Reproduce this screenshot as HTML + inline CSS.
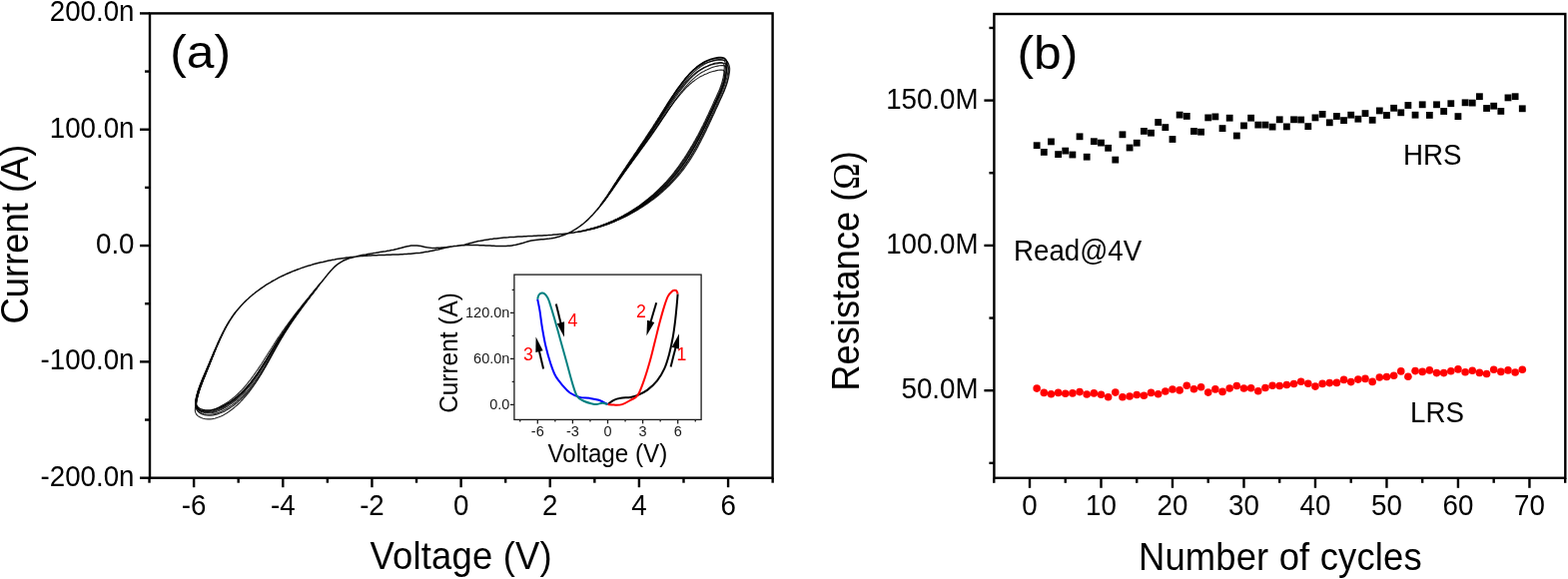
<!DOCTYPE html>
<html><head><meta charset="utf-8"><title>Figure</title>
<style>
html,body{margin:0;padding:0;background:#fff;}
body{width:1570px;height:580px;overflow:hidden;}
svg{display:block;}
text{font-family:"Liberation Sans", Arial, sans-serif;fill:#000;}
</style></head>
<body>
<svg width="1570" height="580" viewBox="0 0 1570 580">
<rect width="1570" height="580" fill="#fff"/>
<rect x="150.0" y="13.4" width="623.60" height="465.30" fill="none" stroke="#000" stroke-width="2.4"/>
<line x1="149.54" y1="478.70" x2="149.54" y2="483.70" stroke="#000" stroke-width="2.4"/>
<line x1="194.12" y1="478.70" x2="194.12" y2="488.20" stroke="#000" stroke-width="2.4"/>
<line x1="238.70" y1="478.70" x2="238.70" y2="483.70" stroke="#000" stroke-width="2.4"/>
<line x1="283.28" y1="478.70" x2="283.28" y2="488.20" stroke="#000" stroke-width="2.4"/>
<line x1="327.86" y1="478.70" x2="327.86" y2="483.70" stroke="#000" stroke-width="2.4"/>
<line x1="372.44" y1="478.70" x2="372.44" y2="488.20" stroke="#000" stroke-width="2.4"/>
<line x1="417.02" y1="478.70" x2="417.02" y2="483.70" stroke="#000" stroke-width="2.4"/>
<line x1="461.60" y1="478.70" x2="461.60" y2="488.20" stroke="#000" stroke-width="2.4"/>
<line x1="506.18" y1="478.70" x2="506.18" y2="483.70" stroke="#000" stroke-width="2.4"/>
<line x1="550.76" y1="478.70" x2="550.76" y2="488.20" stroke="#000" stroke-width="2.4"/>
<line x1="595.34" y1="478.70" x2="595.34" y2="483.70" stroke="#000" stroke-width="2.4"/>
<line x1="639.92" y1="478.70" x2="639.92" y2="488.20" stroke="#000" stroke-width="2.4"/>
<line x1="684.50" y1="478.70" x2="684.50" y2="483.70" stroke="#000" stroke-width="2.4"/>
<line x1="729.08" y1="478.70" x2="729.08" y2="488.20" stroke="#000" stroke-width="2.4"/>
<line x1="773.66" y1="478.70" x2="773.66" y2="483.70" stroke="#000" stroke-width="2.4"/>
<text transform="translate(194.12,516.20) scale(1,1.041)" font-size="27.7" text-anchor="middle" >-6</text>
<text transform="translate(283.28,516.20) scale(1,1.041)" font-size="27.7" text-anchor="middle" >-4</text>
<text transform="translate(372.44,516.20) scale(1,1.041)" font-size="27.7" text-anchor="middle" >-2</text>
<text transform="translate(461.60,516.20) scale(1,1.041)" font-size="27.7" text-anchor="middle" >0</text>
<text transform="translate(550.76,516.20) scale(1,1.041)" font-size="27.7" text-anchor="middle" >2</text>
<text transform="translate(639.92,516.20) scale(1,1.041)" font-size="27.7" text-anchor="middle" >4</text>
<text transform="translate(729.08,516.20) scale(1,1.041)" font-size="27.7" text-anchor="middle" >6</text>
<line x1="140.00" y1="478.70" x2="150.00" y2="478.70" stroke="#000" stroke-width="2.4"/>
<line x1="145.00" y1="420.54" x2="150.00" y2="420.54" stroke="#000" stroke-width="2.4"/>
<line x1="140.00" y1="362.38" x2="150.00" y2="362.38" stroke="#000" stroke-width="2.4"/>
<line x1="145.00" y1="304.21" x2="150.00" y2="304.21" stroke="#000" stroke-width="2.4"/>
<line x1="140.00" y1="246.05" x2="150.00" y2="246.05" stroke="#000" stroke-width="2.4"/>
<line x1="145.00" y1="187.89" x2="150.00" y2="187.89" stroke="#000" stroke-width="2.4"/>
<line x1="140.00" y1="129.73" x2="150.00" y2="129.73" stroke="#000" stroke-width="2.4"/>
<line x1="145.00" y1="71.56" x2="150.00" y2="71.56" stroke="#000" stroke-width="2.4"/>
<line x1="140.00" y1="13.40" x2="150.00" y2="13.40" stroke="#000" stroke-width="2.4"/>
<text transform="translate(134.50,21.40) scale(1,1.041)" font-size="27.7" text-anchor="end" >200.0n</text>
<text transform="translate(134.50,137.73) scale(1,1.041)" font-size="27.7" text-anchor="end" >100.0n</text>
<text transform="translate(134.50,254.05) scale(1,1.041)" font-size="27.7" text-anchor="end" >0.0</text>
<text transform="translate(134.50,370.38) scale(1,1.041)" font-size="27.7" text-anchor="end" >-100.0n</text>
<text transform="translate(134.50,486.70) scale(1,1.041)" font-size="27.7" text-anchor="end" >-200.0n</text>
<text transform="translate(170.20,67.80) scale(1.07,1.0)" font-size="46.5" text-anchor="start" >(a)</text>
<text transform="translate(461.70,569.70) scale(1,1.041)" font-size="36.4" text-anchor="middle" letter-spacing="0.22">Voltage (V)</text>
<text transform="translate(28.30,234.50) rotate(-90) scale(1,1.041)" font-size="36.4" text-anchor="middle" >Current (A)</text>
<rect x="995.4" y="14.0" width="571.90" height="464.80" fill="none" stroke="#000" stroke-width="2.4"/>
<line x1="995.25" y1="478.80" x2="995.25" y2="483.80" stroke="#000" stroke-width="2.4"/>
<line x1="1031.00" y1="478.80" x2="1031.00" y2="488.80" stroke="#000" stroke-width="2.4"/>
<line x1="1066.74" y1="478.80" x2="1066.74" y2="483.80" stroke="#000" stroke-width="2.4"/>
<line x1="1102.49" y1="478.80" x2="1102.49" y2="488.80" stroke="#000" stroke-width="2.4"/>
<line x1="1138.23" y1="478.80" x2="1138.23" y2="483.80" stroke="#000" stroke-width="2.4"/>
<line x1="1173.98" y1="478.80" x2="1173.98" y2="488.80" stroke="#000" stroke-width="2.4"/>
<line x1="1209.72" y1="478.80" x2="1209.72" y2="483.80" stroke="#000" stroke-width="2.4"/>
<line x1="1245.47" y1="478.80" x2="1245.47" y2="488.80" stroke="#000" stroke-width="2.4"/>
<line x1="1281.21" y1="478.80" x2="1281.21" y2="483.80" stroke="#000" stroke-width="2.4"/>
<line x1="1316.96" y1="478.80" x2="1316.96" y2="488.80" stroke="#000" stroke-width="2.4"/>
<line x1="1352.70" y1="478.80" x2="1352.70" y2="483.80" stroke="#000" stroke-width="2.4"/>
<line x1="1388.45" y1="478.80" x2="1388.45" y2="488.80" stroke="#000" stroke-width="2.4"/>
<line x1="1424.19" y1="478.80" x2="1424.19" y2="483.80" stroke="#000" stroke-width="2.4"/>
<line x1="1459.94" y1="478.80" x2="1459.94" y2="488.80" stroke="#000" stroke-width="2.4"/>
<line x1="1495.68" y1="478.80" x2="1495.68" y2="483.80" stroke="#000" stroke-width="2.4"/>
<line x1="1531.43" y1="478.80" x2="1531.43" y2="488.80" stroke="#000" stroke-width="2.4"/>
<line x1="1567.17" y1="478.80" x2="1567.17" y2="483.80" stroke="#000" stroke-width="2.4"/>
<text transform="translate(1031.00,516.40) scale(1,1.041)" font-size="27.7" text-anchor="middle" >0</text>
<text transform="translate(1102.49,516.40) scale(1,1.041)" font-size="27.7" text-anchor="middle" >10</text>
<text transform="translate(1173.98,516.40) scale(1,1.041)" font-size="27.7" text-anchor="middle" >20</text>
<text transform="translate(1245.47,516.40) scale(1,1.041)" font-size="27.7" text-anchor="middle" >30</text>
<text transform="translate(1316.96,516.40) scale(1,1.041)" font-size="27.7" text-anchor="middle" >40</text>
<text transform="translate(1388.45,516.40) scale(1,1.041)" font-size="27.7" text-anchor="middle" >50</text>
<text transform="translate(1459.94,516.40) scale(1,1.041)" font-size="27.7" text-anchor="middle" >60</text>
<text transform="translate(1531.43,516.40) scale(1,1.041)" font-size="27.7" text-anchor="middle" >70</text>
<line x1="990.40" y1="463.85" x2="995.40" y2="463.85" stroke="#000" stroke-width="2.4"/>
<line x1="985.40" y1="391.20" x2="995.40" y2="391.20" stroke="#000" stroke-width="2.4"/>
<line x1="990.40" y1="318.55" x2="995.40" y2="318.55" stroke="#000" stroke-width="2.4"/>
<line x1="985.40" y1="245.90" x2="995.40" y2="245.90" stroke="#000" stroke-width="2.4"/>
<line x1="990.40" y1="173.25" x2="995.40" y2="173.25" stroke="#000" stroke-width="2.4"/>
<line x1="985.40" y1="100.60" x2="995.40" y2="100.60" stroke="#000" stroke-width="2.4"/>
<line x1="990.40" y1="27.95" x2="995.40" y2="27.95" stroke="#000" stroke-width="2.4"/>
<text transform="translate(979.50,399.20) scale(1,1.041)" font-size="27.7" text-anchor="end" >50.0M</text>
<text transform="translate(979.50,253.90) scale(1,1.041)" font-size="27.7" text-anchor="end" >100.0M</text>
<text transform="translate(979.50,108.60) scale(1,1.041)" font-size="27.7" text-anchor="end" >150.0M</text>
<text transform="translate(1018.50,68.50) scale(1.07,1.0)" font-size="46.5" text-anchor="start" >(b)</text>
<text transform="translate(1281.90,570.90) scale(1,1.041)" font-size="36.4" text-anchor="middle" letter-spacing="0.18">Number of cycles</text>
<text transform="translate(859.50,271.50) rotate(-90) scale(1,1.041)" font-size="36.4" text-anchor="middle" >Resistance (<tspan style="font-family:'Liberation Serif',serif;font-size:35.5px">&#937;</tspan>)</text>
<text transform="translate(1015.00,260.60) scale(1,1.041)" font-size="27.7" text-anchor="start" >Read@4V</text>
<text transform="translate(1405.00,164.80) scale(1,1.041)" font-size="27.7" text-anchor="start" >HRS</text>
<text transform="translate(1412.00,422.60) scale(1,1.041)" font-size="27.7" text-anchor="start" >LRS</text>
<rect x="1034.75" y="142.30" width="6.8" height="6.8" fill="#000"/>
<rect x="1041.90" y="149.00" width="6.8" height="6.8" fill="#000"/>
<rect x="1049.05" y="138.50" width="6.8" height="6.8" fill="#000"/>
<rect x="1056.20" y="151.20" width="6.8" height="6.8" fill="#000"/>
<rect x="1063.34" y="147.70" width="6.8" height="6.8" fill="#000"/>
<rect x="1070.49" y="151.60" width="6.8" height="6.8" fill="#000"/>
<rect x="1077.64" y="133.40" width="6.8" height="6.8" fill="#000"/>
<rect x="1084.79" y="153.80" width="6.8" height="6.8" fill="#000"/>
<rect x="1091.94" y="138.30" width="6.8" height="6.8" fill="#000"/>
<rect x="1099.09" y="139.70" width="6.8" height="6.8" fill="#000"/>
<rect x="1106.24" y="144.90" width="6.8" height="6.8" fill="#000"/>
<rect x="1113.39" y="156.70" width="6.8" height="6.8" fill="#000"/>
<rect x="1120.54" y="131.40" width="6.8" height="6.8" fill="#000"/>
<rect x="1127.69" y="144.60" width="6.8" height="6.8" fill="#000"/>
<rect x="1134.83" y="139.80" width="6.8" height="6.8" fill="#000"/>
<rect x="1141.98" y="128.00" width="6.8" height="6.8" fill="#000"/>
<rect x="1149.13" y="129.80" width="6.8" height="6.8" fill="#000"/>
<rect x="1156.28" y="119.10" width="6.8" height="6.8" fill="#000"/>
<rect x="1163.43" y="124.20" width="6.8" height="6.8" fill="#000"/>
<rect x="1170.58" y="136.10" width="6.8" height="6.8" fill="#000"/>
<rect x="1177.73" y="111.70" width="6.8" height="6.8" fill="#000"/>
<rect x="1184.88" y="113.00" width="6.8" height="6.8" fill="#000"/>
<rect x="1192.03" y="128.10" width="6.8" height="6.8" fill="#000"/>
<rect x="1199.18" y="128.80" width="6.8" height="6.8" fill="#000"/>
<rect x="1206.32" y="114.50" width="6.8" height="6.8" fill="#000"/>
<rect x="1213.47" y="113.50" width="6.8" height="6.8" fill="#000"/>
<rect x="1220.62" y="125.20" width="6.8" height="6.8" fill="#000"/>
<rect x="1227.77" y="114.80" width="6.8" height="6.8" fill="#000"/>
<rect x="1234.92" y="132.60" width="6.8" height="6.8" fill="#000"/>
<rect x="1242.07" y="122.50" width="6.8" height="6.8" fill="#000"/>
<rect x="1249.22" y="114.80" width="6.8" height="6.8" fill="#000"/>
<rect x="1256.37" y="121.70" width="6.8" height="6.8" fill="#000"/>
<rect x="1263.52" y="121.70" width="6.8" height="6.8" fill="#000"/>
<rect x="1270.67" y="123.70" width="6.8" height="6.8" fill="#000"/>
<rect x="1277.81" y="116.40" width="6.8" height="6.8" fill="#000"/>
<rect x="1284.96" y="123.50" width="6.8" height="6.8" fill="#000"/>
<rect x="1292.11" y="116.40" width="6.8" height="6.8" fill="#000"/>
<rect x="1299.26" y="116.60" width="6.8" height="6.8" fill="#000"/>
<rect x="1306.41" y="123.20" width="6.8" height="6.8" fill="#000"/>
<rect x="1313.56" y="114.50" width="6.8" height="6.8" fill="#000"/>
<rect x="1320.71" y="111.00" width="6.8" height="6.8" fill="#000"/>
<rect x="1327.86" y="119.40" width="6.8" height="6.8" fill="#000"/>
<rect x="1335.01" y="113.10" width="6.8" height="6.8" fill="#000"/>
<rect x="1342.16" y="117.20" width="6.8" height="6.8" fill="#000"/>
<rect x="1349.30" y="111.80" width="6.8" height="6.8" fill="#000"/>
<rect x="1356.45" y="115.80" width="6.8" height="6.8" fill="#000"/>
<rect x="1363.60" y="110.20" width="6.8" height="6.8" fill="#000"/>
<rect x="1370.75" y="116.90" width="6.8" height="6.8" fill="#000"/>
<rect x="1377.90" y="107.50" width="6.8" height="6.8" fill="#000"/>
<rect x="1385.05" y="112.10" width="6.8" height="6.8" fill="#000"/>
<rect x="1392.20" y="104.90" width="6.8" height="6.8" fill="#000"/>
<rect x="1399.35" y="109.40" width="6.8" height="6.8" fill="#000"/>
<rect x="1406.50" y="102.10" width="6.8" height="6.8" fill="#000"/>
<rect x="1413.65" y="111.80" width="6.8" height="6.8" fill="#000"/>
<rect x="1420.79" y="101.40" width="6.8" height="6.8" fill="#000"/>
<rect x="1427.94" y="112.00" width="6.8" height="6.8" fill="#000"/>
<rect x="1435.09" y="101.40" width="6.8" height="6.8" fill="#000"/>
<rect x="1442.24" y="108.10" width="6.8" height="6.8" fill="#000"/>
<rect x="1449.39" y="100.30" width="6.8" height="6.8" fill="#000"/>
<rect x="1456.54" y="113.20" width="6.8" height="6.8" fill="#000"/>
<rect x="1463.69" y="99.40" width="6.8" height="6.8" fill="#000"/>
<rect x="1470.84" y="99.70" width="6.8" height="6.8" fill="#000"/>
<rect x="1477.99" y="93.30" width="6.8" height="6.8" fill="#000"/>
<rect x="1485.14" y="105.10" width="6.8" height="6.8" fill="#000"/>
<rect x="1492.28" y="102.80" width="6.8" height="6.8" fill="#000"/>
<rect x="1499.43" y="108.00" width="6.8" height="6.8" fill="#000"/>
<rect x="1506.58" y="94.50" width="6.8" height="6.8" fill="#000"/>
<rect x="1513.73" y="93.30" width="6.8" height="6.8" fill="#000"/>
<rect x="1520.88" y="105.40" width="6.8" height="6.8" fill="#000"/>
<circle cx="1038.15" cy="389.10" r="3.8" fill="#f00"/>
<circle cx="1045.30" cy="393.40" r="3.8" fill="#f00"/>
<circle cx="1052.45" cy="394.70" r="3.8" fill="#f00"/>
<circle cx="1059.60" cy="393.40" r="3.8" fill="#f00"/>
<circle cx="1066.74" cy="394.20" r="3.8" fill="#f00"/>
<circle cx="1073.89" cy="393.90" r="3.8" fill="#f00"/>
<circle cx="1081.04" cy="392.60" r="3.8" fill="#f00"/>
<circle cx="1088.19" cy="395.00" r="3.8" fill="#f00"/>
<circle cx="1095.34" cy="393.90" r="3.8" fill="#f00"/>
<circle cx="1102.49" cy="395.20" r="3.8" fill="#f00"/>
<circle cx="1109.64" cy="397.70" r="3.8" fill="#f00"/>
<circle cx="1116.79" cy="393.10" r="3.8" fill="#f00"/>
<circle cx="1123.94" cy="397.70" r="3.8" fill="#f00"/>
<circle cx="1131.09" cy="397.00" r="3.8" fill="#f00"/>
<circle cx="1138.23" cy="395.50" r="3.8" fill="#f00"/>
<circle cx="1145.38" cy="396.30" r="3.8" fill="#f00"/>
<circle cx="1152.53" cy="393.40" r="3.8" fill="#f00"/>
<circle cx="1159.68" cy="394.70" r="3.8" fill="#f00"/>
<circle cx="1166.83" cy="392.00" r="3.8" fill="#f00"/>
<circle cx="1173.98" cy="390.00" r="3.8" fill="#f00"/>
<circle cx="1181.13" cy="390.90" r="3.8" fill="#f00"/>
<circle cx="1188.28" cy="386.30" r="3.8" fill="#f00"/>
<circle cx="1195.43" cy="389.80" r="3.8" fill="#f00"/>
<circle cx="1202.58" cy="387.80" r="3.8" fill="#f00"/>
<circle cx="1209.72" cy="393.10" r="3.8" fill="#f00"/>
<circle cx="1216.87" cy="389.90" r="3.8" fill="#f00"/>
<circle cx="1224.02" cy="392.40" r="3.8" fill="#f00"/>
<circle cx="1231.17" cy="389.00" r="3.8" fill="#f00"/>
<circle cx="1238.32" cy="386.50" r="3.8" fill="#f00"/>
<circle cx="1245.47" cy="389.00" r="3.8" fill="#f00"/>
<circle cx="1252.62" cy="388.80" r="3.8" fill="#f00"/>
<circle cx="1259.77" cy="391.80" r="3.8" fill="#f00"/>
<circle cx="1266.92" cy="388.50" r="3.8" fill="#f00"/>
<circle cx="1274.07" cy="386.30" r="3.8" fill="#f00"/>
<circle cx="1281.21" cy="386.50" r="3.8" fill="#f00"/>
<circle cx="1288.36" cy="385.50" r="3.8" fill="#f00"/>
<circle cx="1295.51" cy="384.50" r="3.8" fill="#f00"/>
<circle cx="1302.66" cy="382.20" r="3.8" fill="#f00"/>
<circle cx="1309.81" cy="384.20" r="3.8" fill="#f00"/>
<circle cx="1316.96" cy="387.10" r="3.8" fill="#f00"/>
<circle cx="1324.11" cy="384.40" r="3.8" fill="#f00"/>
<circle cx="1331.26" cy="383.60" r="3.8" fill="#f00"/>
<circle cx="1338.41" cy="383.40" r="3.8" fill="#f00"/>
<circle cx="1345.56" cy="380.40" r="3.8" fill="#f00"/>
<circle cx="1352.70" cy="382.60" r="3.8" fill="#f00"/>
<circle cx="1359.85" cy="380.10" r="3.8" fill="#f00"/>
<circle cx="1367.00" cy="379.40" r="3.8" fill="#f00"/>
<circle cx="1374.15" cy="382.40" r="3.8" fill="#f00"/>
<circle cx="1381.30" cy="378.00" r="3.8" fill="#f00"/>
<circle cx="1388.45" cy="377.50" r="3.8" fill="#f00"/>
<circle cx="1395.60" cy="376.30" r="3.8" fill="#f00"/>
<circle cx="1402.75" cy="371.90" r="3.8" fill="#f00"/>
<circle cx="1409.90" cy="377.30" r="3.8" fill="#f00"/>
<circle cx="1417.05" cy="371.60" r="3.8" fill="#f00"/>
<circle cx="1424.19" cy="372.40" r="3.8" fill="#f00"/>
<circle cx="1431.34" cy="370.90" r="3.8" fill="#f00"/>
<circle cx="1438.49" cy="373.60" r="3.8" fill="#f00"/>
<circle cx="1445.64" cy="373.60" r="3.8" fill="#f00"/>
<circle cx="1452.79" cy="371.80" r="3.8" fill="#f00"/>
<circle cx="1459.94" cy="369.90" r="3.8" fill="#f00"/>
<circle cx="1467.09" cy="372.70" r="3.8" fill="#f00"/>
<circle cx="1474.24" cy="371.30" r="3.8" fill="#f00"/>
<circle cx="1481.39" cy="373.40" r="3.8" fill="#f00"/>
<circle cx="1488.54" cy="374.50" r="3.8" fill="#f00"/>
<circle cx="1495.68" cy="370.30" r="3.8" fill="#f00"/>
<circle cx="1502.83" cy="372.40" r="3.8" fill="#f00"/>
<circle cx="1509.98" cy="370.90" r="3.8" fill="#f00"/>
<circle cx="1517.13" cy="373.00" r="3.8" fill="#f00"/>
<circle cx="1524.28" cy="370.20" r="3.8" fill="#f00"/>
<path d="M463.4,245.7 465.4,245.1 467.3,244.5 469.2,244.0 471.2,243.4 473.1,243.0 475.1,242.5 477.0,242.1 479.0,241.6 480.9,241.3 482.9,240.9 484.8,240.5 486.8,240.2 488.8,239.9 490.8,239.6 492.8,239.4 494.7,239.1 496.7,238.9 498.7,238.7 500.7,238.5 502.7,238.3 504.7,238.1 506.7,237.9 508.7,237.8 510.7,237.6 512.7,237.5 514.7,237.4 516.7,237.2 518.7,237.1 520.7,237.0 522.7,236.9 524.7,236.8 526.8,236.7 528.8,236.6 530.8,236.5 532.8,236.4 534.8,236.3 536.8,236.2 538.8,236.1 540.8,236.0 542.8,235.9 544.8,235.8 546.8,235.7 548.8,235.6 550.8,235.4 552.8,235.3 554.8,235.1 556.8,235.0 558.8,234.8 560.8,234.6 562.8,234.4 564.8,234.2 566.8,234.0 568.8,233.8 570.7,233.5 572.7,233.2 574.7,232.9 576.6,232.6 578.6,232.3 580.6,231.9 582.5,231.6 584.5,231.2 586.4,230.7 588.4,230.3 590.3,229.8 592.2,229.3 594.1,228.8 596.1,228.3 598.0,227.7 599.9,227.1 601.8,226.5 603.7,225.8 605.6,225.1 607.4,224.4 609.3,223.7 611.2,223.0 613.0,222.2 614.9,221.4 616.7,220.6 618.5,219.7 620.4,218.9 622.2,218.0 624.0,217.1 625.8,216.2 627.5,215.2 629.3,214.2 631.0,213.2 632.8,212.2 634.5,211.2 636.2,210.1 637.9,209.1 639.6,208.0 641.3,206.8 643.0,205.7 644.6,204.5 646.3,203.4 647.9,202.2 649.5,201.0 651.1,199.7 652.7,198.5 654.2,197.2 655.8,195.9 657.3,194.6 658.8,193.3 660.3,191.9 661.8,190.6 663.3,189.2 664.7,187.8 666.2,186.4 667.6,185.0 669.0,183.5 670.3,182.1 671.7,180.6 673.0,179.1 674.3,177.6 675.6,176.1 676.9,174.5 678.2,173.0 679.4,171.4 680.6,169.9 681.8,168.3 683.0,166.7 684.1,165.0 685.3,163.4 686.4,161.8 687.5,160.1 688.6,158.4 689.6,156.8 690.7,155.1 691.7,153.4 692.8,151.7 693.8,150.0 694.8,148.2 695.8,146.5 696.7,144.8 697.7,143.0 698.6,141.2 699.6,139.5 700.5,137.7 701.4,135.9 702.3,134.1 703.2,132.3 704.1,130.5 705.0,128.7 705.9,126.9 706.7,125.1 707.6,123.3 708.4,121.5 709.3,119.6 710.1,117.8 711.0,116.0 711.8,114.1 712.6,112.3 713.5,110.5 714.3,108.6 715.1,106.8 715.9,104.9 716.8,103.1 717.6,101.3 718.4,99.4 719.2,97.6 720.0,95.7 720.8,93.9 721.6,92.0 722.3,90.2 723.0,88.3 723.7,86.4 724.4,84.5 725.0,82.6 725.6,80.6 726.1,78.7 726.5,76.7 726.9,74.7 727.3,72.7 727.5,70.7 727.7,68.6 727.8,66.5 727.8,64.4 727.6,62.5 727.2,60.7 726.4,59.3 725.2,58.3 723.6,57.8 721.8,57.5 719.8,57.6 717.8,57.8 715.7,58.2 713.8,58.7 711.9,59.2 710.0,59.9 708.2,60.7 706.4,61.5 704.6,62.5 703.0,63.5 701.3,64.6 699.7,65.7 698.1,66.9 696.6,68.2 695.1,69.5 693.7,70.9 692.2,72.4 690.8,73.8 689.5,75.4 688.1,76.9 686.8,78.5 685.6,80.1 684.3,81.7 683.1,83.4 681.9,85.0 680.7,86.7 679.5,88.3 678.3,90.0 677.2,91.7 676.1,93.4 675.0,95.1 673.8,96.8 672.8,98.4 671.7,100.1 670.6,101.8 669.5,103.5 668.5,105.2 667.4,106.9 666.4,108.6 665.4,110.4 664.3,112.1 663.3,113.7 662.2,115.4 661.2,117.1 660.1,118.8 659.1,120.5 658.0,122.2 657.0,123.9 655.9,125.6 654.8,127.2 653.8,128.9 652.7,130.6 651.6,132.2 650.5,133.9 649.4,135.5 648.3,137.2 647.2,138.8 646.1,140.5 645.0,142.1 643.8,143.8 642.7,145.4 641.6,147.0 640.5,148.7 639.3,150.3 638.2,152.0 637.1,153.6 635.9,155.3 634.8,156.9 633.7,158.5 632.5,160.2 631.4,161.8 630.2,163.5 629.1,165.1 628.0,166.8 626.8,168.5 625.7,170.1 624.6,171.8 623.4,173.5 622.3,175.1 621.2,176.8 620.0,178.5 618.9,180.2 617.8,181.9 616.7,183.6 615.5,185.3 614.4,187.0 613.3,188.7 612.2,190.4 611.0,192.1 609.9,193.8 608.7,195.4 607.6,197.1 606.4,198.8 605.2,200.4 604.0,202.0 602.8,203.7 601.6,205.3 600.4,206.9 599.2,208.4 597.9,210.0 596.6,211.5 595.3,213.0 594.0,214.5 592.7,215.9 591.3,217.3 589.9,218.7 588.5,220.1 587.1,221.4 585.6,222.7 584.1,224.0 582.6,225.2 581.0,226.4 579.4,227.5 577.8,228.6 576.2,229.7 574.5,230.7 572.8,231.7 571.0,232.6 569.2,233.5 567.4,234.3 565.6,235.0 563.7,235.8 561.8,236.4 559.9,237.0 557.9,237.5 556.0,238.0 554.0,238.4 552.0,238.8 550.0,239.1 548.0,239.3 546.0,239.5 543.9,239.7 541.9,239.8 539.9,240.0 537.9,240.2 535.9,240.4 533.9,240.7 531.9,241.1 530.0,241.5 528.1,242.0 526.1,242.6 524.2,243.2 522.3,243.7 520.4,244.3 518.4,244.8 516.5,245.3 514.6,245.6 512.6,245.9 510.6,246.2 508.6,246.3 506.6,246.5 504.6,246.5 502.6,246.5 500.6,246.5 498.6,246.5 496.5,246.4 494.5,246.3 492.5,246.2 490.5,246.1 488.4,246.0 486.4,245.9 484.4,245.8 482.4,245.7 480.4,245.7 478.4,245.6 476.4,245.6 474.4,245.5 472.4,245.5 470.4,245.5 468.4,245.6 466.4,245.6 464.4,245.7 462.4,245.8 460.4,246.0 458.4,246.2 456.5,246.4 454.5,246.6 452.5,246.9 450.5,247.3 448.6,247.7 446.6,248.1 444.6,248.5 442.6,249.0 440.7,249.4 438.7,249.9 436.7,250.3 434.8,250.8 432.8,251.2 430.8,251.6 428.8,252.0 426.8,252.3 424.9,252.6 422.9,252.9 420.9,253.2 418.9,253.4 416.9,253.6 414.9,253.8 413.0,254.0 411.0,254.2 409.0,254.3 407.0,254.5 405.0,254.6 403.0,254.7 401.0,254.8 399.0,254.9 397.0,255.0 395.0,255.0 393.0,255.1 391.0,255.2 389.0,255.2 387.0,255.3 385.0,255.4 383.0,255.4 381.0,255.5 379.0,255.6 377.0,255.7 375.0,255.7 373.0,255.8 371.0,255.9 369.0,256.1 367.0,256.2 365.0,256.3 363.0,256.5 361.0,256.6 359.0,256.8 357.0,257.0 355.0,257.2 353.0,257.4 351.0,257.6 349.0,257.9 347.0,258.1 345.0,258.4 343.0,258.7 341.0,259.0 339.0,259.3 337.0,259.6 335.1,260.0 333.1,260.3 331.1,260.7 329.1,261.1 327.2,261.5 325.2,261.9 323.3,262.4 321.3,262.8 319.4,263.3 317.4,263.8 315.5,264.3 313.6,264.8 311.6,265.4 309.7,265.9 307.8,266.5 305.9,267.1 304.0,267.8 302.1,268.4 300.2,269.1 298.4,269.7 296.5,270.5 294.6,271.2 292.8,271.9 290.9,272.7 289.1,273.5 287.3,274.3 285.4,275.1 283.6,276.0 281.8,276.8 280.0,277.7 278.2,278.7 276.5,279.6 274.7,280.6 272.9,281.5 271.2,282.6 269.5,283.6 267.7,284.7 266.0,285.7 264.4,286.8 262.7,288.0 261.0,289.1 259.4,290.3 257.8,291.5 256.2,292.7 254.6,294.0 253.0,295.2 251.5,296.5 250.0,297.8 248.5,299.2 247.0,300.5 245.6,301.9 244.2,303.3 242.8,304.7 241.4,306.2 240.1,307.7 238.8,309.2 237.5,310.7 236.2,312.3 235.0,313.8 233.8,315.4 232.7,317.0 231.6,318.7 230.5,320.3 229.4,322.0 228.4,323.7 227.4,325.4 226.4,327.2 225.4,328.9 224.5,330.7 223.5,332.5 222.6,334.3 221.8,336.1 220.9,337.9 220.0,339.7 219.2,341.5 218.3,343.4 217.5,345.2 216.7,347.1 215.9,349.0 215.1,350.8 214.3,352.7 213.6,354.6 212.8,356.4 212.0,358.3 211.2,360.2 210.4,362.0 209.7,363.9 208.9,365.7 208.1,367.6 207.3,369.4 206.5,371.3 205.7,373.1 204.9,375.0 204.1,376.8 203.3,378.6 202.6,380.5 201.8,382.3 201.1,384.2 200.4,386.1 199.7,388.0 199.0,389.9 198.4,391.8 197.8,393.7 197.3,395.7 196.8,397.7 196.4,399.7 196.1,401.7 196.1,403.6 196.4,405.3 197.2,406.8 198.3,408.1 199.7,409.1 201.4,409.9 203.4,410.5 205.4,410.9 207.6,411.0 209.7,411.0 211.8,410.7 213.8,410.3 215.8,409.8 217.8,409.1 219.7,408.4 221.6,407.5 223.4,406.6 225.2,405.7 227.0,404.7 228.7,403.6 230.4,402.6 232.0,401.5 233.6,400.3 235.2,399.1 236.8,397.9 238.3,396.6 239.7,395.3 241.2,394.0 242.6,392.6 244.0,391.3 245.4,389.8 246.7,388.4 248.0,386.9 249.3,385.4 250.6,383.9 251.8,382.4 253.0,380.8 254.2,379.2 255.4,377.6 256.6,376.0 257.8,374.4 258.9,372.7 260.0,371.0 261.1,369.4 262.2,367.7 263.3,366.0 264.4,364.2 265.5,362.5 266.6,360.8 267.6,359.1 268.7,357.3 269.7,355.6 270.8,353.9 271.8,352.1 272.9,350.4 273.9,348.6 275.0,346.9 276.0,345.2 277.1,343.4 278.2,341.7 279.2,340.0 280.3,338.3 281.4,336.6 282.5,334.9 283.6,333.2 284.7,331.6 285.8,329.9 287.0,328.3 288.1,326.6 289.2,325.0 290.4,323.4 291.5,321.7 292.7,320.1 293.9,318.5 295.0,316.9 296.2,315.3 297.4,313.7 298.6,312.1 299.8,310.5 301.0,309.0 302.2,307.4 303.4,305.8 304.6,304.2 305.9,302.7 307.1,301.1 308.3,299.5 309.6,298.0 310.8,296.4 312.0,294.8 313.3,293.3 314.5,291.7 315.8,290.1 317.1,288.6 318.3,287.0 319.6,285.4 320.9,283.8 322.2,282.3 323.4,280.7 324.7,279.1 326.0,277.5 327.3,275.9 328.6,274.3 329.9,272.8 331.2,271.2 332.6,269.8 334.0,268.3 335.4,266.9 336.9,265.6 338.5,264.4 340.1,263.3 341.7,262.3 343.4,261.3 345.2,260.5 347.0,259.8 348.9,259.1 350.8,258.4 352.7,257.9 354.6,257.4 356.6,256.9 358.5,256.4 360.5,256.0 362.4,255.6 364.4,255.2 366.4,254.9 368.4,254.5 370.3,254.2 372.3,253.9 374.3,253.6 376.3,253.3 378.3,252.9 380.2,252.6 382.2,252.3 384.2,252.0 386.2,251.7 388.2,251.3 390.1,251.0 392.1,250.6 394.1,250.2 396.0,249.7 398.0,249.3 399.9,248.8 401.9,248.3 403.8,247.7 405.7,247.2 407.7,246.8 409.6,246.4 411.6,246.1 413.5,245.9 415.5,245.9 417.5,246.0 419.5,246.2 421.5,246.6 423.5,247.0 425.5,247.4 427.5,247.8 429.5,248.1 431.5,248.3 433.5,248.4 435.5,248.4 437.5,248.3 439.5,248.2 441.5,248.1 443.5,247.9 445.5,247.7 447.5,247.5 449.4,247.2 451.4,246.9 453.4,246.7 455.4,246.4 457.4,246.2 459.4,245.9 461.4,245.7 463.4,245.6" fill="none" stroke="#000" stroke-opacity="0.95" stroke-width="1.5" stroke-linejoin="round"/>
<path d="M599.7,226.9 601.6,226.3 603.4,225.6 605.3,224.9 607.2,224.2 609.0,223.5 610.9,222.7 612.7,221.9 614.6,221.1 616.4,220.3 618.2,219.4 620.0,218.6 621.8,217.7 623.6,216.7 625.3,215.8 627.1,214.8 628.8,213.8 630.6,212.8 632.3,211.8 634.0,210.7 635.7,209.7 637.4,208.6 639.1,207.5 640.7,206.3 642.4,205.2 644.0,204.0 645.6,202.8 647.2,201.6 648.8,200.3 650.4,199.1 651.9,197.8 653.5,196.5 655.0,195.2 656.5,193.9 658.0,192.5 659.5,191.2 660.9,189.8 662.4,188.4 663.8,187.0 665.2,185.6 666.6,184.1 667.9,182.7 669.3,181.2 670.6,179.8 671.9,178.3 673.2,176.8 674.5,175.2 675.7,173.7 676.9,172.2 678.1,170.6 679.3,169.1 680.5,167.5 681.6,165.9 682.8,164.3 683.9,162.7 685.0,161.1 686.1,159.4 687.1,157.8 688.2,156.1 689.2,154.5 690.3,152.8 691.3,151.2 692.3,149.5 693.3,147.8 694.3,146.1 695.2,144.4 696.2,142.7 697.1,141.0 698.1,139.3 699.0,137.5 699.9,135.8 700.8,134.0 701.7,132.3 702.6,130.5 703.5,128.8 704.4,127.0 705.2,125.2 706.1,123.4 706.9,121.6 707.8,119.8 708.6,118.0 709.5,116.2 710.3,114.4 711.1,112.6 712.0,110.8 712.8,108.9 713.6,107.1 714.4,105.3 715.3,103.5 716.1,101.7 716.9,99.9 717.7,98.1 718.5,96.3 719.3,94.5 720.1,92.6 720.8,90.8 721.5,89.0 722.2,87.2 722.9,85.3 723.5,83.5 724.1,81.6 724.6,79.7 725.0,77.8 725.4,75.9 725.8,74.0 726.0,72.0 726.2,70.0 726.3,68.0 726.5,66.0 726.4,64.2 726.1,62.5 725.4,61.2 724.4,60.3 723.0,59.7 721.3,59.6 719.5,59.6 717.5,59.9 715.6,60.3 713.8,60.8 712.0,61.4 710.3,62.1 708.6,62.8 707.0,63.6 705.2,64.5 703.6,65.5 701.9,66.6 700.3,67.7 698.7,68.9 697.2,70.1 695.7,71.4 694.3,72.7 692.8,74.1 691.4,75.6 690.1,77.0 688.7,78.5 687.4,80.1 686.2,81.6 684.9,83.2 683.7,84.8 682.5,86.4 681.3,88.0 680.1,89.6 678.9,91.3 677.8,92.9 676.7,94.6 675.6,96.2 674.4,97.9 673.4,99.5 672.3,101.2 671.2,102.8 670.1,104.5 669.1,106.2 668.0,107.9 667.0,109.5 666.0,111.2 664.9,112.9 663.9,114.5 662.8,116.2 661.8,117.9 660.7,119.6 659.7,121.2 658.6,122.9 657.6,124.5 656.5,126.2 655.4,127.8 654.3,129.5 653.3,131.1 652.2,132.8 651.1,134.4 650.0,136.0 648.8,137.7 647.7,139.3 646.6,140.9 645.5,142.6 644.4,144.2 643.2,145.8 642.1,147.4 640.9,149.1 639.8,150.7 638.7,152.3 637.5,154.0 636.4,155.6 635.2,157.2 634.1,158.8 632.9,160.5 631.8,162.1 630.6,163.8 629.5,165.4 628.3,167.0 627.2,168.7 626.0,170.3 624.9,172.0 623.7,173.7 622.6,175.3 621.5,177.0 620.3,178.7 619.2,180.4 618.0,182.1 616.9,183.7 615.8,185.4 M215.8,349.2 215.0,351.1 214.2,352.9 213.4,354.8 212.6,356.7 211.8,358.6 211.0,360.5 210.3,362.4 209.5,364.3 208.7,366.2 207.9,368.0 207.1,369.9 206.3,371.8 205.5,373.7 204.7,375.5 203.9,377.4 203.1,379.3 202.3,381.1 201.5,383.0 200.8,384.9 200.1,386.8 199.4,388.8 198.7,390.7 198.1,392.7 197.5,394.7 197.0,396.7 196.5,398.8 196.1,400.8 195.8,402.8 195.8,404.8 196.1,406.5 196.8,408.1 197.9,409.4 199.3,410.5 201.0,411.3 202.9,411.9 204.9,412.3 207.0,412.4 209.1,412.4 211.2,412.1 213.2,411.7 215.1,411.2 217.1,410.5 219.0,409.7 220.8,408.8 222.6,407.9 224.4,406.9 226.2,405.9 227.9,404.9 229.6,403.8 231.2,402.6 232.8,401.4 234.4,400.2 236.0,398.9 237.5,397.6 238.9,396.3 240.4,395.0 241.8,393.6 243.2,392.1 244.6,390.7 245.9,389.2 247.2,387.7 248.5,386.2 249.8,384.6 251.0,383.1 252.2,381.5 253.5,379.8 254.7,378.2 255.8,376.6 257.0,374.9 258.1,373.2 259.3,371.5 260.4,369.8 261.5,368.1 262.6,366.4 263.7,364.6 264.8,362.9 265.9,361.2 267.0,359.4 268.0,357.6 269.1,355.9 270.2,354.1 271.2,352.4 272.3,350.6 273.4,348.9 274.4,347.1 275.5,345.4 276.6,343.6 277.6,341.9 278.7,340.2 279.8,338.4 280.9,336.7 282.0,335.1 283.1,333.4 284.3,331.7 285.4,330.0 286.5,328.4 287.7,326.7 288.8,325.1 290.0,323.4 291.2,321.8 292.3,320.2 293.5,318.6 294.7,317.0 295.9,315.4 297.1,313.8 298.3,312.2 299.5,310.6" fill="none" stroke="#000" stroke-opacity="0.85" stroke-width="1.1" stroke-linejoin="round"/>
<path d="M578.4,232.1 580.3,231.7 582.3,231.4 584.2,230.9 586.1,230.5 588.1,230.0 590.0,229.6 591.9,229.0 593.8,228.5 595.7,227.9 597.6,227.3 599.5,226.7 601.4,226.1 603.2,225.4 605.1,224.7 606.9,224.0 608.8,223.3 610.6,222.5 612.5,221.7 614.3,220.9 616.1,220.0 617.9,219.2 619.7,218.3 621.4,217.4 623.2,216.4 625.0,215.5 626.7,214.5 628.4,213.5 630.2,212.5 631.9,211.4 633.6,210.3 635.2,209.3 636.9,208.1 638.6,207.0 640.2,205.9 641.8,204.7 643.4,203.5 645.0,202.3 646.6,201.0 648.2,199.8 649.7,198.5 651.3,197.2 652.8,195.9 654.3,194.6 655.8,193.2 657.2,191.9 658.7,190.5 660.1,189.1 661.5,187.7 662.9,186.3 664.3,184.9 665.7,183.4 667.0,182.0 668.3,180.5 669.6,179.0 670.9,177.5 672.2,176.0 673.4,174.5 674.6,173.0 675.8,171.4 677.0,169.9 678.2,168.3 679.3,166.8 680.4,165.2 681.5,163.6 682.6,162.0 683.7,160.4 684.8,158.8 685.8,157.2 686.9,155.6 687.9,154.0 688.9,152.4 689.9,150.7 690.9,149.1 691.9,147.4 692.9,145.8 693.9,144.1 694.8,142.4 695.8,140.8 696.7,139.1 697.6,137.4 698.6,135.7 699.5,134.0 700.4,132.3 701.3,130.6 702.1,128.8 703.0,127.1 703.9,125.4 704.7,123.6 705.6,121.9 706.4,120.1 707.3,118.3 708.1,116.5 709.0,114.8 709.8,113.0 710.6,111.2 711.4,109.4 712.3,107.6 713.1,105.9 713.9,104.1 714.7,102.3 715.5,100.6 716.3,98.8 717.2,97.1 717.9,95.3 718.7,93.6 719.5,91.8 720.2,90.1 720.9,88.3 721.5,86.6 722.2,84.8 722.7,83.1 723.2,81.3 723.7,79.5 724.1,77.7 724.4,75.9 724.7,74.1 724.9,72.2 725.0,70.3 725.2,68.4 725.3,66.7 725.1,65.1 724.6,63.9 723.7,63.1 722.4,62.6 720.9,62.5 719.1,62.7 717.4,63.0 715.6,63.4 713.9,63.9 712.2,64.5 710.6,65.1 709.1,65.9 707.6,66.7 705.8,67.5 704.2,68.5 702.5,69.5 700.9,70.5 699.3,71.6 697.8,72.8 696.3,74.0 694.9,75.3 693.4,76.6 692.0,78.0 690.7,79.4 689.3,80.8 688.0,82.3 686.8,83.7 685.5,85.3 684.3,86.8 683.1,88.3 681.9,89.9 680.7,91.4 679.5,93.0 678.4,94.6 677.3,96.2 676.2,97.8 675.0,99.4 674.0,101.0 672.9,102.6 671.8,104.2 670.7,105.8 669.7,107.4 668.6,109.1 667.6,110.7 666.6,112.3 665.5,114.0 664.5,115.6 663.4,117.2 662.4,118.9 661.3,120.5 660.3,122.1 659.2,123.8 658.2,125.4 657.1,127.0 656.0,128.6 654.9,130.3 653.8,131.9 652.7,133.5 651.6,135.1 650.5,136.7 649.4,138.3 648.3,139.9 647.1,141.5 646.0,143.1 644.9,144.7 643.7,146.3 642.6,147.9 641.4,149.5 640.3,151.1 639.1,152.8 638.0,154.4 636.8,156.0 635.7,157.6 634.5,159.2 633.3,160.8 632.2,162.4 631.0,164.1 629.9,165.7 628.7,167.3 627.5,169.0 626.4,170.6 625.2,172.2 624.1,173.9 622.9,175.6 621.7,177.2 620.6,178.9 619.5,180.5 618.3,182.2 617.2,183.9 616.0,185.6 614.9,187.3 613.7,189.0 612.6,190.6 611.4,192.3 610.2,194.0 609.1,195.6 607.9,197.3 606.7,198.9 605.5,200.6 604.3,202.2 603.1,203.8 M223.7,332.7 222.8,334.5 221.9,336.3 221.0,338.2 220.2,340.0 219.3,341.9 218.5,343.8 217.7,345.6 216.9,347.5 216.1,349.4 215.3,351.3 214.5,353.2 213.8,355.1 213.0,357.0 212.2,358.9 211.5,360.8 210.7,362.8 209.9,364.7 209.1,366.6 208.4,368.5 207.6,370.4 206.8,372.3 206.0,374.2 205.2,376.1 204.4,378.0 203.6,379.9 202.9,381.8 202.1,383.7 201.4,385.7 200.7,387.6 200.0,389.6 199.4,391.6 198.8,393.6 198.2,395.6 197.7,397.7 197.2,399.8 196.8,401.9 196.5,404.0 196.5,406.0 196.8,407.8 197.6,409.4 198.7,410.7 200.1,411.8 201.9,412.7 203.8,413.3 205.9,413.7 208.0,413.8 210.1,413.8 212.2,413.5 214.3,413.1 216.3,412.6 218.3,411.9 220.2,411.1 222.1,410.2 223.9,409.2 225.7,408.2 227.5,407.2 229.2,406.1 230.9,404.9 232.5,403.8 234.1,402.5 235.7,401.3 237.3,400.0 238.8,398.7 240.2,397.3 241.7,395.9 243.1,394.5 244.5,393.0 245.9,391.5 247.2,390.0 248.5,388.5 249.8,386.9 251.1,385.3 252.3,383.7 253.5,382.1 254.7,380.5 255.9,378.8 257.1,377.1 258.2,375.4 259.4,373.7 260.5,372.0 261.6,370.3 262.7,368.5 263.8,366.8 264.9,365.0 265.9,363.3 267.0,361.5 268.0,359.7 269.1,358.0 270.1,356.2 271.2,354.4 272.2,352.6 273.3,350.9 274.3,349.1 275.3,347.3 276.4,345.6 277.4,343.8 278.5,342.1 279.6,340.3 280.6,338.6 281.7,336.9 282.8,335.2 283.9,333.5 285.0,331.8 286.1,330.1 287.2,328.5 288.3,326.8 289.5,325.2 290.6,323.5" fill="none" stroke="#000" stroke-opacity="0.85" stroke-width="1.1" stroke-linejoin="round"/>
<path d="M627.3,215.0 629.1,214.0 630.8,213.0 632.5,212.0 634.3,211.0 636.0,209.9 637.7,208.8 639.4,207.7 641.0,206.6 642.7,205.4 644.3,204.3 645.9,203.1 647.6,201.9 649.2,200.7 650.7,199.4 652.3,198.1 653.9,196.9 655.4,195.6 656.9,194.2 658.4,192.9 659.9,191.6 661.4,190.2 662.8,188.8 664.3,187.4 665.7,186.0 667.1,184.6 668.4,183.1 669.8,181.7 671.1,180.2 672.5,178.7 673.8,177.2 675.0,175.7 676.3,174.2 677.5,172.6 678.8,171.1 680.0,169.5 681.1,167.9 682.3,166.3 683.4,164.7 684.6,163.1 685.7,161.5 686.8,159.8 687.9,158.2 688.9,156.5 690.0,154.9 691.0,153.2 692.0,151.5 693.0,149.9 694.0,148.2 695.0,146.5 696.0,144.8 696.9,143.1 697.9,141.3 698.8,139.6 699.7,137.9 700.7,136.2 701.6,134.4 702.5,132.7 703.4,130.9 704.2,129.2 705.1,127.4 706.0,125.7 706.8,123.9 707.7,122.2 708.5,120.4 709.4,118.7 710.2,116.9 711.1,115.1 711.9,113.4 712.7,111.6 713.5,109.9 714.4,108.2 715.2,106.4 716.0,104.7 716.8,103.0 717.6,101.3 718.4,99.6 719.3,97.9 720.0,96.2 720.8,94.5 721.6,92.9 722.3,91.2 723.0,89.5 723.6,87.9 724.3,86.2 724.8,84.5 725.3,82.9 725.8,81.2 726.2,79.5 726.5,77.8 726.8,76.1 727.0,74.3 727.1,72.5 727.2,70.8 727.2,69.2 726.9,67.8 726.3,66.6 725.3,65.9 723.9,65.6 722.3,65.5 720.4,65.7 718.6,66.1 716.7,66.5 714.9,67.0 713.1,67.6 711.4,68.2 709.8,68.9 708.2,69.7 706.4,70.5 704.8,71.4 703.1,72.3 701.5,73.3 699.9,74.4 698.4,75.5 696.9,76.6 695.5,77.8 694.0,79.1 692.6,80.4 691.3,81.7 689.9,83.1 688.6,84.5 687.4,85.9 686.1,87.3 684.9,88.8 683.7,90.3 682.5,91.7 681.3,93.2 680.1,94.8 679.0,96.3 677.9,97.8 676.8,99.3 675.6,100.9 674.6,102.4 673.5,104.0 672.4,105.6 671.3,107.1 670.3,108.7 669.2,110.3 668.2,111.9 667.2,113.5 666.1,115.1 665.1,116.6 664.0,118.2 663.0,119.8 661.9,121.4 660.9,123.0 659.8,124.6 658.8,126.2 657.7,127.8 656.6,129.4 655.5,131.0 654.4,132.6 653.3,134.2 652.2,135.8 651.1,137.3 650.0,138.9 648.8,140.5 647.7,142.1 646.5,143.7 645.4,145.3 644.2,146.8 643.1,148.4 641.9,150.0 640.7,151.6 639.6,153.2 638.4,154.8 637.2,156.4 636.1,158.0 634.9,159.6 633.7,161.2 632.6,162.8 631.4,164.4 630.2,166.0 629.1,167.6 627.9,169.2 626.7,170.9 625.5,172.5 624.4,174.1 623.2,175.8 622.0,177.4 620.9,179.1 619.7,180.7 618.6,182.4 617.4,184.1 616.3,185.7 615.1,187.4 613.9,189.1 612.8,190.8 611.6,192.4 610.4,194.1 609.2,195.7 608.1,197.4 606.9,199.0 605.6,200.7 604.4,202.3 603.2,203.9 601.9,205.5 600.7,207.0 599.4,208.6 598.1,210.1 M226.4,327.5 225.4,329.2 224.5,331.0 223.5,332.8 222.6,334.6 221.8,336.5 220.9,338.3 220.0,340.2 219.2,342.1 218.3,343.9 217.5,345.8 216.7,347.7 215.9,349.6 215.1,351.6 214.3,353.5 213.6,355.4 212.8,357.3 212.0,359.3 211.2,361.2 210.4,363.1 209.7,365.1 208.9,367.0 208.1,368.9 207.3,370.9 206.5,372.8 205.7,374.7 204.9,376.6 204.1,378.6 203.3,380.5 202.6,382.5 201.8,384.4 201.1,386.4 200.4,388.4 199.7,390.4 199.0,392.5 198.4,394.5 197.8,396.6 197.3,398.7 196.8,400.9 196.4,403.0 196.1,405.1 196.1,407.2 196.4,409.0 197.3,410.6 198.5,412.0 200.0,413.1 201.9,414.0 203.9,414.7 206.1,415.1 208.3,415.2 210.5,415.2 212.7,414.9 214.9,414.5 217.0,413.9 219.1,413.2 221.1,412.4 223.1,411.5 225.0,410.5 226.8,409.5 228.6,408.4 230.3,407.3 232.0,406.1 233.6,404.9 235.2,403.7 236.8,402.4 238.4,401.0 239.9,399.7 241.3,398.3 242.8,396.9 244.2,395.4 245.6,393.9 247.0,392.4 248.3,390.8 249.6,389.3 250.9,387.7 252.2,386.1 253.4,384.4 254.6,382.8 255.8,381.1 257.0,379.4 258.2,377.7 259.3,376.0 260.4,374.3 261.5,372.5 262.6,370.7 263.7,369.0 264.8,367.2 265.8,365.4 266.9,363.6 267.9,361.9 268.9,360.1 270.0,358.3 271.0,356.5 272.0,354.7 273.0,352.9 274.1,351.1 275.1,349.3 276.1,347.5 277.1,345.8 278.2,344.0 279.2,342.2 280.3,340.5 281.3,338.7 282.4,337.0 283.4,335.3 284.5,333.6 285.6,331.9 286.7,330.2 287.8,328.6 288.9,326.9 290.0,325.2 291.1,323.6 292.3,322.0 293.4,320.3 294.5,318.7 295.7,317.1 296.8,315.5 298.0,313.9 299.2,312.3 300.3,310.7 301.5,309.1 302.7,307.5 303.9,305.9 305.1,304.3 306.3,302.7 307.5,301.1 308.7,299.6 309.9,298.0 311.1,296.4 312.3,294.9 313.6,293.3 314.8,291.7" fill="none" stroke="#000" stroke-opacity="0.85" stroke-width="1.1" stroke-linejoin="round"/>
<path d="M603.9,226.0 605.8,225.3 607.7,224.6 609.6,223.9 611.4,223.2 613.3,222.4 615.2,221.7 617.0,220.8 618.9,220.0 620.7,219.2 622.5,218.3 624.3,217.4 626.1,216.5 627.9,215.6 629.7,214.6 631.5,213.6 633.2,212.6 635.0,211.6 636.7,210.6 638.4,209.5 640.2,208.4 641.8,207.3 643.5,206.2 645.2,205.0 646.9,203.9 648.5,202.7 650.1,201.5 651.8,200.3 653.4,199.1 654.9,197.8 656.5,196.5 658.1,195.2 659.6,193.9 661.1,192.6 662.6,191.3 664.1,189.9 665.6,188.5 667.0,187.1 668.5,185.7 669.9,184.3 671.3,182.8 672.7,181.4 674.0,179.9 675.4,178.4 676.7,176.8 678.0,175.3 679.3,173.7 680.5,172.2 681.8,170.6 683.0,169.0 684.2,167.4 685.3,165.7 686.5,164.1 687.6,162.4 688.8,160.8 689.9,159.1 690.9,157.4 692.0,155.7 693.1,153.9 694.1,152.2 695.1,150.4 696.1,148.7 697.1,146.9 698.1,145.2 699.0,143.4 700.0,141.6 700.9,139.8 701.8,138.0 702.8,136.2 703.7,134.3 704.6,132.5 705.5,130.7 706.3,128.9 707.2,127.1 708.1,125.2 708.9,123.4 709.8,121.6 710.6,119.8 711.5,117.9 712.3,116.1 713.2,114.3 714.0,112.4 714.8,110.6 715.6,108.8 716.5,107.0 717.3,105.1 718.1,103.3 718.9,101.5 719.7,99.6 720.5,97.8 721.4,96.0 722.1,94.2 722.9,92.3 723.7,90.5 724.4,88.6 725.1,86.8 725.7,84.9 726.4,83.0 726.9,81.1 727.4,79.2 727.9,77.3 728.3,75.3 728.6,73.3 728.9,71.3 729.1,69.3 729.2,67.2 729.0,65.2 728.7,63.2 728.1,61.5 727.1,60.1 725.8,59.1 724.1,58.5 722.2,58.3 720.0,58.3 717.8,58.5 715.7,58.9 713.5,59.3 711.5,59.9 709.5,60.5 707.5,61.2 705.6,62.0 703.8,63.0 702.2,63.9 700.5,65.0 698.9,66.1 697.3,67.3 695.8,68.6 694.3,69.9 692.9,71.3 691.4,72.7 690.0,74.1 688.7,75.6 687.3,77.2 686.0,78.7 684.8,80.3 683.5,81.9 682.3,83.5 681.1,85.2 679.9,86.8 678.7,88.4 677.5,90.1 676.4,91.8 675.3,93.4 674.2,95.1 673.0,96.8 672.0,98.4 670.9,100.1 669.8,101.8 668.7,103.5 667.7,105.2 666.6,106.9 665.6,108.5 664.6,110.2 663.5,111.9 662.5,113.6 661.4,115.3 660.4,117.0 659.3,118.6 658.3,120.3 657.2,122.0 656.2,123.7 655.1,125.3 654.1,127.0 653.0,128.7 651.9,130.3 650.8,132.0 649.7,133.6 648.6,135.3 647.5,136.9 646.5,138.6 645.4,140.2 644.3,141.9 643.1,143.5 642.0,145.1 640.9,146.8 639.8,148.4 638.7,150.1 637.6,151.7 636.5,153.4 635.3,155.0 634.2,156.7 633.1,158.3 632.0,160.0 630.9,161.6 629.7,163.3 628.6,164.9 627.5,166.6 626.4,168.3 625.2,169.9 624.1,171.6 623.0,173.3 621.9,175.0 620.8,176.6 619.7,178.3 618.5,180.0 617.4,181.7 616.3,183.4 615.2,185.1 614.1,186.8 613.0,188.6 611.9,190.3 610.8,192.0 609.6,193.6 M214.9,350.9 214.1,352.8 213.3,354.7 212.5,356.6 211.7,358.5 210.9,360.3 210.1,362.2 209.3,364.1 208.5,366.0 207.8,367.8 206.9,369.7 206.1,371.6 205.3,373.4 204.5,375.3 203.7,377.1 202.9,379.0 202.1,380.8 201.4,382.7 200.6,384.6 199.9,386.5 199.2,388.4 198.6,390.3 197.9,392.3 197.4,394.2 196.8,396.2 196.3,398.3 195.9,400.3 195.6,402.3 195.6,404.2 195.9,406.0 196.5,407.5 197.4,408.8 198.7,409.9 200.3,410.7 202.0,411.3 203.9,411.6 205.9,411.8 207.8,411.7 209.8,411.5 211.6,411.1 213.5,410.5 215.3,409.9 217.0,409.1 218.7,408.2 220.4,407.3 222.2,406.3 224.0,405.3 225.7,404.3 227.4,403.2 229.0,402.1 230.6,400.9 232.2,399.7 233.8,398.4 235.3,397.2 236.7,395.9 238.2,394.5 239.6,393.1 241.0,391.7 242.4,390.3 243.7,388.8 245.0,387.3 246.3,385.8 247.6,384.3 248.8,382.7 250.1,381.2 251.3,379.6 252.5,377.9 253.7,376.3 254.9,374.6 256.0,373.0 257.2,371.3 258.4,369.6 259.5,367.9 260.6,366.2 261.8,364.5 262.9,362.7 264.0,361.0 265.1,359.2 266.2,357.5 267.3,355.8 268.4,354.0 269.5,352.3 270.7,350.5 271.8,348.8 272.9,347.0 274.0,345.3 275.1,343.5 276.2,341.8 277.3,340.1 278.4,338.4 279.6,336.7 280.7,335.0 281.9,333.3 283.0,331.6 284.2,330.0 285.4,328.3 286.6,326.7 287.8,325.0 289.0,323.4 290.2,321.8 291.4,320.2 292.6,318.6 293.8,316.9 295.0,315.3 296.3,313.7 297.5,312.2 298.7,310.6 300.0,309.0 301.3,307.4 302.5,305.8 303.8,304.2 305.1,302.7 306.3,301.1 307.6,299.5 308.9,298.0 310.2,296.4 311.5,294.8 312.8,293.3 314.1,291.7 315.4,290.1 316.7,288.6 318.0,287.0 319.3,285.4 320.6,283.8" fill="none" stroke="#000" stroke-opacity="0.85" stroke-width="1.1" stroke-linejoin="round"/>
<path d="M586.2,230.6 588.1,230.1 590.1,229.6 592.0,229.1 593.9,228.6 595.8,228.0 597.7,227.4 599.6,226.8 601.5,226.2 603.3,225.5 605.2,224.8 607.1,224.1 608.9,223.3 610.7,222.6 612.6,221.8 614.4,221.0 616.2,220.1 618.0,219.3 619.8,218.4 621.6,217.5 623.4,216.6 625.1,215.6 626.9,214.6 628.6,213.6 630.3,212.6 632.1,211.6 633.8,210.5 635.4,209.4 637.1,208.3 638.8,207.2 640.4,206.1 642.1,204.9 643.7,203.7 645.3,202.5 646.9,201.3 648.5,200.0 650.0,198.8 651.6,197.5 653.1,196.2 654.6,194.9 656.1,193.5 657.6,192.2 659.0,190.8 660.5,189.4 661.9,188.0 663.3,186.6 664.7,185.2 666.1,183.8 667.4,182.3 668.8,180.8 670.1,179.4 671.4,177.9 672.6,176.4 673.9,174.9 675.1,173.3 676.3,171.8 677.5,170.3 678.7,168.7 679.8,167.1 681.0,165.6 682.1,164.0 683.2,162.4 684.3,160.8 685.4,159.2 686.4,157.6 687.5,156.0 688.5,154.3 689.5,152.7 690.5,151.1 691.5,149.4 692.5,147.8 693.5,146.1 694.5,144.5 695.4,142.8 696.4,141.2 697.3,139.5 698.2,137.8 699.2,136.2 700.1,134.5 701.0,132.8 701.9,131.1 702.7,129.4 703.6,127.7 704.5,126.0 705.3,124.3 706.2,122.6 707.0,120.9 707.9,119.2 708.7,117.5 709.6,115.8 710.4,114.1 711.2,112.4 712.0,110.7 712.9,109.0 713.7,107.4 714.5,105.7 715.3,104.1 716.1,102.5 716.9,100.9 717.8,99.3 718.5,97.7 719.3,96.1 720.1,94.6 720.8,93.0 721.5,91.5 722.1,90.0 722.8,88.4 723.3,86.9 723.8,85.5 724.3,84.0 724.7,82.5 725.0,81.0 725.3,79.5 725.5,77.9 725.6,76.3 725.8,74.8 725.8,73.3 725.6,72.0 725.0,71.0 724.0,70.3 722.7,70.0 721.1,70.1 719.3,70.3 717.5,70.6 715.7,71.1 713.9,71.5 712.2,72.0 710.5,72.6 708.9,73.2 707.4,73.9 705.6,74.6 704.0,75.4 702.3,76.2 700.7,77.1 699.1,78.1 697.6,79.1 696.1,80.1 694.7,81.2 693.2,82.3 691.8,83.5 690.5,84.7 689.1,86.0 687.8,87.2 686.6,88.5 685.3,89.9 684.1,91.2 682.9,92.6 681.7,94.0 680.5,95.3 679.3,96.8 678.2,98.2 677.1,99.6 676.0,101.0 674.8,102.5 673.8,104.0 672.7,105.4 671.6,106.9 670.5,108.4 669.5,109.9 668.4,111.4 667.4,112.9 666.4,114.4 665.3,116.0 664.3,117.5 663.2,119.0 662.2,120.6 661.1,122.1 660.1,123.7 659.0,125.2 658.0,126.7 656.9,128.3 655.8,129.8 654.7,131.4 653.6,132.9 652.5,134.5 651.4,136.0 650.3,137.6 649.2,139.1 648.1,140.7 647.0,142.2 645.8,143.8 644.7,145.4 643.6,146.9 642.4,148.5 641.3,150.1 640.1,151.6 639.0,153.2 637.8,154.8 636.7,156.4 635.5,157.9 634.4,159.5 633.2,161.1 632.0,162.7 630.9,164.3 629.7,165.9 628.6,167.5 627.4,169.1 626.3,170.8 625.1,172.4 624.0,174.0 622.8,175.7 621.7,177.3 620.5,179.0 619.4,180.6 618.2,182.3 617.1,184.0 615.9,185.6 614.8,187.3 613.6,189.0 612.5,190.7 611.3,192.3 610.2,194.0 609.0,195.7 607.8,197.3 606.7,199.0 605.5,200.6 604.3,202.2 M222.8,334.5 222.0,336.3 221.1,338.1 220.2,339.9 219.4,341.8 218.6,343.7 217.8,345.5 217.0,347.4 216.2,349.3 215.4,351.2 214.6,353.1 213.9,355.0 213.1,356.9 212.3,358.8 211.6,360.7 210.8,362.6 210.0,364.5 209.3,366.4 208.5,368.2 207.7,370.1 206.9,372.0 206.2,373.9 205.4,375.8 204.6,377.7 203.8,379.6 203.1,381.4 202.3,383.4 201.6,385.3 200.9,387.2 200.2,389.2 199.6,391.1 199.0,393.1 198.4,395.1 197.9,397.2 197.4,399.2 197.0,401.3 196.7,403.4 196.7,405.3 197.0,407.1 197.7,408.7 198.7,410.0 200.1,411.1 201.8,411.9 203.7,412.5 205.7,412.9 207.7,413.1 209.8,413.0 211.8,412.8 213.8,412.4 215.7,411.8 217.7,411.1 219.5,410.3 221.3,409.5 223.1,408.5 224.9,407.5 226.7,406.5 228.4,405.4 230.1,404.3 231.7,403.1 233.3,401.9 234.9,400.7 236.5,399.4 238.0,398.1 239.4,396.8 240.9,395.4 242.3,394.0 243.7,392.6 245.1,391.1 246.4,389.6 247.7,388.1 249.0,386.5 250.3,385.0 251.5,383.4 252.7,381.8 253.9,380.1 255.1,378.5 256.3,376.8 257.5,375.2 258.6,373.5 259.7,371.8 260.9,370.0 262.0,368.3 263.1,366.6 264.1,364.8 265.2,363.1 266.3,361.3 267.4,359.6 268.4,357.8 269.5,356.0 270.5,354.3 271.6,352.5 272.7,350.7 273.7,349.0 274.8,347.2 275.8,345.5 276.9,343.7 278.0,342.0 279.0,340.2 280.1,338.5 281.2,336.8" fill="none" stroke="#000" stroke-opacity="0.85" stroke-width="1.1" stroke-linejoin="round"/>
<path d="M578.8,232.5 580.8,232.1 582.8,231.8 584.7,231.4 586.7,231.0 588.6,230.5 590.6,230.1 592.5,229.6 594.5,229.1 596.4,228.6 598.4,228.0 600.3,227.4 602.2,226.8 604.1,226.2 606.0,225.5 607.9,224.9 609.8,224.2 611.7,223.4 613.6,222.7 615.5,221.9 617.3,221.1 619.2,220.3 621.0,219.5 622.9,218.6 624.7,217.8 626.5,216.9 628.3,215.9 630.1,215.0 631.9,214.0 633.7,213.0 635.5,212.0 637.2,211.0 639.0,210.0 640.7,208.9 642.4,207.8 644.1,206.7 645.8,205.6 647.5,204.5 649.2,203.3 650.8,202.1 652.5,200.9 654.1,199.7 655.7,198.5 657.3,197.2 658.9,196.0 660.4,194.7 662.0,193.4 663.5,192.0 665.0,190.7 666.5,189.3 668.0,187.9 669.5,186.5 670.9,185.1 672.3,183.7 673.7,182.2 675.1,180.7 676.5,179.2 677.8,177.7 679.2,176.1 680.5,174.6 681.8,173.0 683.0,171.4 684.3,169.8 685.5,168.2 686.7,166.5 687.9,164.8 689.0,163.2 690.2,161.5 691.3,159.8 692.4,158.0 693.5,156.3 694.5,154.5 695.6,152.8 696.6,151.0 697.6,149.2 698.6,147.4 699.6,145.6 700.5,143.8 701.5,142.0 702.4,140.1 703.3,138.3 704.3,136.5 705.2,134.6 706.1,132.8 707.0,131.0 707.8,129.1 708.7,127.3 709.6,125.5 710.4,123.6 711.3,121.8 712.1,120.0 713.0,118.1 713.8,116.3 714.7,114.5 715.5,112.7 716.3,110.9 717.1,109.1 718.0,107.3 718.8,105.5 719.6,103.7 720.4,101.9 721.2,100.1 722.0,98.3 722.9,96.5 723.6,94.8 724.4,93.0 725.2,91.2 725.9,89.4 726.6,87.6 727.2,85.8 727.9,83.9 728.4,82.1 728.9,80.2 729.4,78.4 729.8,76.5 730.1,74.6 730.4,72.7 730.6,70.7 730.7,68.8 730.4,66.7 729.9,64.9 729.2,63.2 728.1,61.8 726.7,60.8 724.8,60.3 722.7,60.1 720.5,60.1 718.1,60.3 715.8,60.6 713.6,61.1 711.4,61.6 709.2,62.2 707.1,62.9 705.1,63.6 703.3,64.5 701.7,65.5 700.0,66.5 698.4,67.6 696.8,68.7 695.3,69.9 693.8,71.2 692.4,72.5 690.9,73.9 689.5,75.3 688.2,76.8 686.8,78.2 685.5,79.7 684.3,81.3 683.0,82.8 681.8,84.4 680.6,86.0 679.4,87.6 678.2,89.2 677.0,90.8 675.9,92.4 674.8,94.0 673.7,95.7 672.5,97.3 671.5,99.0 670.4,100.6 669.3,102.2 668.2,103.9 667.2,105.6 666.1,107.2 665.1,108.9 664.1,110.5 663.0,112.2 662.0,113.8 660.9,115.5 659.9,117.2 658.8,118.8 657.8,120.5 656.7,122.1 655.7,123.8 654.6,125.4 653.6,127.1 652.5,128.7 651.4,130.4 650.3,132.0 649.3,133.6 648.2,135.3 647.1,136.9 646.0,138.6 644.9,140.2 643.8,141.8 642.7,143.5 641.6,145.1 640.5,146.7 639.4,148.4 638.3,150.0 637.2,151.7 636.1,153.3 635.0,154.9 633.9,156.6 632.8,158.2 631.6,159.9 630.5,161.5 629.4,163.2 628.3,164.8 627.2,166.5 626.1,168.2 625.0,169.8 623.8,171.5 622.7,173.2 621.6,174.9 620.5,176.6 619.4,178.3 618.3,179.9 617.2,181.7 616.1,183.4 615.0,185.1 613.9,186.8 612.8,188.5 611.7,190.2 610.6,191.9 609.5,193.6 608.4,195.3 607.2,197.0 606.1,198.6 604.9,200.3 603.8,201.9 602.6,203.6 601.4,205.2 M229.5,322.3 228.4,324.0 227.4,325.7 226.4,327.5 225.5,329.3 224.5,331.1 223.6,332.9 222.7,334.7 221.8,336.6 221.0,338.4 220.1,340.3 219.3,342.2 218.4,344.1 217.6,346.0 216.8,347.9 216.0,349.8 215.2,351.7 214.4,353.7 213.7,355.6 212.9,357.5 212.1,359.5 211.3,361.4 210.6,363.4 209.8,365.3 209.0,367.3 208.2,369.2 207.4,371.2 206.6,373.1 205.9,375.1 205.1,377.0 204.3,379.0 203.5,380.9 202.7,382.9 202.0,384.9 201.2,386.9 200.5,388.9 199.8,391.0 199.2,393.0 198.6,395.1 198.0,397.2 197.5,399.4 197.0,401.6 196.6,403.8 196.3,405.9 196.3,407.9 196.6,409.8 197.5,411.5 198.8,412.9 200.4,414.0 202.3,414.9 204.4,415.6 206.6,416.0 208.9,416.2 211.2,416.1 213.4,415.9 215.6,415.4 217.8,414.9 219.9,414.1 222.0,413.3 224.0,412.4 226.0,411.4 227.8,410.3 229.6,409.2 231.3,408.1 233.0,406.9 234.6,405.7 236.2,404.4 237.8,403.1 239.4,401.7 240.9,400.4 242.3,398.9 243.8,397.5 245.2,396.0 246.6,394.5 248.0,393.0 249.3,391.4 250.6,389.8 251.9,388.2 253.2,386.5 254.4,384.9 255.6,383.2 256.8,381.5 258.0,379.8 259.1,378.1 260.3,376.3 261.4,374.6 262.5,372.8 263.5,371.1 264.6,369.3 265.7,367.5 266.7,365.7 267.7,363.9 268.8,362.1 269.8,360.3 270.8,358.5 271.8,356.7 272.8,354.9 273.8,353.1 274.8,351.3 275.8,349.5 276.8,347.7 277.8,345.9 278.9,344.1 279.9,342.3 280.9,340.6 281.9,338.8 283.0,337.1 284.0,335.4 285.1,333.7 286.2,332.0 287.2,330.3 288.3,328.6 289.4,327.0 290.5,325.3 291.6,323.6 292.7,322.0 293.8,320.4 295.0,318.7 296.1,317.1 297.2,315.5 298.4,313.9 299.5,312.3 300.7,310.7 301.8,309.1 303.0,307.5 304.2,305.9 305.4,304.3 306.5,302.7 307.7,301.2 308.9,299.6 310.1,298.0 311.3,296.4 312.5,294.9 313.7,293.3 315.0,291.7 316.2,290.2 317.4,288.6 318.6,287.0 319.9,285.4" fill="none" stroke="#000" stroke-opacity="0.85" stroke-width="1.1" stroke-linejoin="round"/>
<path d="M592.4,229.5 594.4,229.0 596.3,228.5 598.2,227.9 600.1,227.3 602.1,226.7 604.0,226.1 605.9,225.4 607.8,224.7 609.7,224.0 611.5,223.3 613.4,222.5 615.3,221.7 617.1,220.9 619.0,220.1 620.8,219.3 622.6,218.4 624.5,217.5 626.3,216.6 628.1,215.7 629.9,214.7 631.6,213.8 633.4,212.8 635.2,211.8 636.9,210.7 638.6,209.7 640.3,208.6 642.1,207.5 643.7,206.4 645.4,205.2 647.1,204.1 648.7,202.9 650.4,201.7 652.0,200.5 653.6,199.3 655.2,198.0 656.8,196.8 658.3,195.5 659.9,194.2 661.4,192.9 662.9,191.5 664.4,190.2 665.9,188.8 667.4,187.4 668.8,186.0 670.2,184.6 671.6,183.1 673.0,181.7 674.4,180.2 675.8,178.7 677.1,177.1 678.4,175.6 679.7,174.1 681.0,172.5 682.2,170.9 683.4,169.3 684.6,167.7 685.8,166.0 687.0,164.4 688.1,162.7 689.3,161.0 690.4,159.4 691.5,157.7 692.5,155.9 693.6,154.2 694.6,152.5 695.6,150.7 696.6,149.0 697.6,147.2 698.6,145.4 699.6,143.6 700.5,141.9 701.4,140.1 702.4,138.3 703.3,136.5 704.2,134.7 705.1,132.8 706.0,131.0 706.9,129.2 707.7,127.4 708.6,125.6 709.5,123.8 710.3,122.0 711.2,120.3 712.0,118.5 712.8,116.7 713.7,114.9 714.5,113.1 715.3,111.4 716.2,109.6 717.0,107.8 717.8,106.1 718.6,104.3 719.4,102.6 720.3,100.8 721.1,99.1 721.9,97.4 722.7,95.6 723.4,93.9 724.2,92.2 724.9,90.5 725.6,88.7 726.3,87.0 726.9,85.3 727.4,83.5 728.0,81.8 728.4,80.1 728.8,78.3 729.1,76.5 729.4,74.7 729.6,72.9 729.7,71.0 729.6,69.2 729.2,67.4 728.7,65.9 727.7,64.6 726.4,63.8 724.8,63.3 722.8,63.2 720.7,63.3 718.5,63.6 716.4,64.0 714.3,64.4 712.2,65.0 710.2,65.6 708.3,66.2 706.4,67.0 704.6,67.8 703.0,68.7 701.3,69.7 699.7,70.7 698.1,71.8 696.6,73.0 695.1,74.2 693.7,75.4 692.2,76.7 690.8,78.1 689.5,79.4 688.1,80.9 686.8,82.3 685.6,83.8 684.3,85.2 683.1,86.8 681.9,88.3 680.7,89.8 679.5,91.3 678.3,92.9 677.2,94.5 676.1,96.0 675.0,97.6 673.8,99.2 672.8,100.8 671.7,102.4 670.6,104.0 669.5,105.6 668.5,107.2 667.4,108.8 666.4,110.4 665.4,112.0 664.3,113.6 663.3,115.2 662.2,116.9 661.2,118.5 660.1,120.1 659.1,121.7 658.0,123.4 657.0,125.0 655.9,126.6 654.8,128.2 653.8,129.8 652.7,131.4 651.6,133.0 650.5,134.7 649.4,136.3 648.3,137.9 647.2,139.5 646.1,141.1 645.0,142.7 643.8,144.3 642.7,145.9 641.6,147.5 640.5,149.1 639.3,150.7 638.2,152.4 637.1,154.0 635.9,155.6 634.8,157.2 633.7,158.8 632.5,160.5 M236.2,312.5 235.0,314.1 233.8,315.7 232.6,317.4 231.5,319.1 230.4,320.8 229.3,322.5 228.2,324.2 227.2,326.0 226.2,327.8 225.2,329.6 224.3,331.4 223.3,333.2 222.4,335.1 221.5,336.9 220.6,338.8 219.7,340.7 218.9,342.6 218.0,344.6 217.2,346.5 216.4,348.4 215.5,350.4 214.7,352.4 213.9,354.4 213.1,356.3 212.3,358.3 211.5,360.3 210.7,362.3 209.9,364.4 209.1,366.4 208.3,368.4 207.5,370.4 206.7,372.4 205.9,374.4 205.1,376.5 204.3,378.5 203.5,380.5 202.7,382.6 201.9,384.7 201.1,386.7 200.4,388.9 199.6,391.0 198.9,393.1 198.3,395.3 197.7,397.6 197.1,399.8 196.5,402.1 196.0,404.4 195.6,406.7 195.4,409.0 195.3,411.1 195.7,413.1 196.5,414.9 197.8,416.4 199.5,417.6 201.4,418.6 203.5,419.3 205.7,419.7 208.1,419.9 210.4,419.9 212.6,419.6 214.9,419.2 217.1,418.5 219.2,417.8 221.3,416.9 223.4,415.9 225.4,414.8 227.2,413.7 229.0,412.5 230.7,411.3 232.4,410.0 234.0,408.7 235.6,407.4 237.2,406.0 238.8,404.5 240.3,403.1 241.7,401.5 243.2,400.0 244.6,398.4 246.0,396.8 247.4,395.2 248.7,393.6 250.0,391.9 251.3,390.2 252.6,388.5 253.8,386.7 255.0,385.0 256.2,383.2 257.4,381.4 258.5,379.6 259.7,377.8 260.8,376.0 261.9,374.1 263.0,372.3 264.1,370.5 265.1,368.6 266.2,366.7 267.2,364.9 268.3,363.0 269.3,361.2 270.3,359.3 271.3,357.4 272.3,355.6 273.4,353.7 274.4,351.9 275.4,350.1 276.4,348.2 277.4,346.4 278.4,344.6 279.5,342.8 280.5,341.0 281.6,339.2 282.6,337.5 283.7,335.7 284.7,334.0 285.8,332.3 286.9,330.6 288.0,328.9 289.1,327.2 290.2,325.5 291.3,323.8 292.4,322.2 293.6,320.5 294.7,318.9 295.8,317.3 297.0,315.6 298.2,314.0 299.3,312.4 300.5,310.8 301.6,309.2 302.8,307.6 304.0,306.0 305.2,304.4 306.4,302.8 307.6,301.2 308.8,299.6 310.0,298.1 311.2,296.5 312.4,294.9 313.6,293.3 314.9,291.7 316.1,290.2 317.3,288.6" fill="none" stroke="#000" stroke-opacity="0.85" stroke-width="1.1" stroke-linejoin="round"/>
<rect x="514.9" y="275.1" width="187.20" height="145.30" fill="#fff" stroke="#1a1a1a" stroke-width="1.3"/>
<line x1="520.75" y1="420.40" x2="520.75" y2="422.60" stroke="#1a1a1a" stroke-width="1.3"/>
<line x1="538.30" y1="420.40" x2="538.30" y2="424.40" stroke="#1a1a1a" stroke-width="1.3"/>
<line x1="555.85" y1="420.40" x2="555.85" y2="422.60" stroke="#1a1a1a" stroke-width="1.3"/>
<line x1="573.40" y1="420.40" x2="573.40" y2="424.40" stroke="#1a1a1a" stroke-width="1.3"/>
<line x1="590.95" y1="420.40" x2="590.95" y2="422.60" stroke="#1a1a1a" stroke-width="1.3"/>
<line x1="608.50" y1="420.40" x2="608.50" y2="424.40" stroke="#1a1a1a" stroke-width="1.3"/>
<line x1="626.05" y1="420.40" x2="626.05" y2="422.60" stroke="#1a1a1a" stroke-width="1.3"/>
<line x1="643.60" y1="420.40" x2="643.60" y2="424.40" stroke="#1a1a1a" stroke-width="1.3"/>
<line x1="661.15" y1="420.40" x2="661.15" y2="422.60" stroke="#1a1a1a" stroke-width="1.3"/>
<line x1="678.70" y1="420.40" x2="678.70" y2="424.40" stroke="#1a1a1a" stroke-width="1.3"/>
<line x1="696.25" y1="420.40" x2="696.25" y2="422.60" stroke="#1a1a1a" stroke-width="1.3"/>
<line x1="510.90" y1="405.40" x2="514.90" y2="405.40" stroke="#1a1a1a" stroke-width="1.3"/>
<line x1="512.70" y1="382.40" x2="514.90" y2="382.40" stroke="#1a1a1a" stroke-width="1.3"/>
<line x1="510.90" y1="359.40" x2="514.90" y2="359.40" stroke="#1a1a1a" stroke-width="1.3"/>
<line x1="512.70" y1="336.40" x2="514.90" y2="336.40" stroke="#1a1a1a" stroke-width="1.3"/>
<line x1="510.90" y1="313.40" x2="514.90" y2="313.40" stroke="#1a1a1a" stroke-width="1.3"/>
<line x1="512.70" y1="290.39" x2="514.90" y2="290.39" stroke="#1a1a1a" stroke-width="1.3"/>
<text transform="translate(538.30,437.00) scale(1,1.041)" font-size="14.5" text-anchor="middle" style="fill:#1a1a1a">-6</text>
<text transform="translate(573.40,437.00) scale(1,1.041)" font-size="14.5" text-anchor="middle" style="fill:#1a1a1a">-3</text>
<text transform="translate(608.50,437.00) scale(1,1.041)" font-size="14.5" text-anchor="middle" style="fill:#1a1a1a">0</text>
<text transform="translate(643.60,437.00) scale(1,1.041)" font-size="14.5" text-anchor="middle" style="fill:#1a1a1a">3</text>
<text transform="translate(678.70,437.00) scale(1,1.041)" font-size="14.5" text-anchor="middle" style="fill:#1a1a1a">6</text>
<text transform="translate(510.40,410.30) scale(1,1.041)" font-size="14.5" text-anchor="end" style="fill:#1a1a1a">0.0</text>
<text transform="translate(510.40,364.30) scale(1,1.041)" font-size="14.5" text-anchor="end" style="fill:#1a1a1a">60.0n</text>
<text transform="translate(510.40,318.30) scale(1,1.041)" font-size="14.5" text-anchor="end" style="fill:#1a1a1a">120.0n</text>
<text transform="translate(608.40,463.30) scale(1,1.041)" font-size="24.2" text-anchor="middle">Voltage (V)</text>
<text transform="translate(458.20,353.50) rotate(-90) scale(1,1.041)" font-size="24.4" text-anchor="middle">Current (A)</text>
<path d="M608.50,405.10C609.50,404.38 612.30,401.85 614.50,400.80C616.70,399.75 618.88,399.28 621.70,398.80C624.52,398.32 628.58,398.38 631.40,397.90C634.22,397.42 635.78,397.12 638.60,395.90C641.42,394.68 645.07,393.02 648.30,390.60C651.53,388.18 655.18,384.93 658.00,381.40C660.82,377.87 663.20,373.82 665.20,369.40C667.20,364.98 668.58,360.13 670.00,354.90C671.42,349.67 672.68,343.63 673.70,338.00C674.72,332.37 675.42,326.73 676.10,321.10C676.78,315.47 677.38,308.63 677.80,304.20C678.22,299.77 678.47,296.12 678.60,294.50" fill="none" stroke="#000" stroke-width="2"/>
<path d="M678.60,294.50C678.43,294.02 678.07,292.22 677.60,291.60C677.13,290.98 676.57,290.77 675.80,290.80C675.03,290.83 674.17,290.78 673.00,291.80C671.83,292.82 670.10,294.43 668.80,296.90C667.50,299.37 666.60,302.17 665.20,306.60C663.80,311.03 662.00,317.47 660.40,323.50C658.80,329.53 657.22,336.37 655.60,342.80C653.98,349.23 652.52,355.67 650.70,362.10C648.88,368.53 646.72,375.77 644.70,381.40C642.68,387.03 640.82,392.67 638.60,395.90C636.38,399.13 634.02,399.27 631.40,400.80C628.78,402.33 625.72,404.30 622.90,405.10C620.08,405.90 616.90,405.60 614.50,405.60C612.10,405.60 609.50,405.18 608.50,405.10" fill="none" stroke="#f00" stroke-width="2"/>
<path d="M608.20,405.10C606.78,404.38 602.73,401.85 599.70,400.80C596.67,399.75 593.22,399.28 590.00,398.80C586.78,398.32 583.62,398.78 580.40,397.90C577.18,397.02 573.52,395.43 570.70,393.50C567.88,391.57 565.92,389.12 563.50,386.30C561.08,383.48 558.22,380.23 556.20,376.60C554.18,372.97 553.00,369.33 551.40,364.50C549.80,359.67 548.02,353.63 546.60,347.60C545.18,341.57 543.92,334.33 542.90,328.30C541.88,322.27 541.28,316.17 540.50,311.40C539.72,306.63 538.58,301.65 538.20,299.70" fill="none" stroke="#00f" stroke-width="2"/>
<path d="M538.20,299.70C538.42,299.00 538.78,296.53 539.50,295.50C540.22,294.47 541.50,293.67 542.50,293.50C543.50,293.33 544.50,293.67 545.50,294.50C546.50,295.33 547.72,297.10 548.50,298.50C549.28,299.90 549.12,299.55 550.20,302.90C551.28,306.25 553.18,312.35 555.00,318.60C556.82,324.85 559.08,333.15 561.10,340.40C563.12,347.65 565.10,354.85 567.10,362.10C569.10,369.35 571.28,378.05 573.10,383.90C574.92,389.75 575.98,394.18 578.00,397.20C580.02,400.22 582.78,400.80 585.20,402.00C587.62,403.20 590.48,403.88 592.50,404.40C594.52,404.92 595.50,405.22 597.30,405.10C599.10,404.98 601.48,403.70 603.30,403.70C605.12,403.70 607.38,404.87 608.20,405.10" fill="none" stroke="#008080" stroke-width="2"/>
<line x1="657.20" y1="303.20" x2="651.09" y2="323.83" stroke="#000" stroke-width="2.0"/><path d="M647.40,336.30 L648.06,320.85 L655.25,322.98 Z" fill="#000"/>
<line x1="671.60" y1="367.60" x2="676.83" y2="346.81" stroke="#000" stroke-width="2.0"/><path d="M680.00,334.20 L679.98,349.66 L672.70,347.83 Z" fill="#000"/>
<line x1="556.80" y1="304.40" x2="561.90" y2="325.17" stroke="#000" stroke-width="2.0"/><path d="M565.00,337.80 L557.78,324.13 L565.07,322.34 Z" fill="#000"/>
<line x1="544.10" y1="369.60" x2="539.56" y2="350.16" stroke="#000" stroke-width="2.0"/><path d="M536.60,337.50 L543.66,351.25 L536.36,352.96 Z" fill="#000"/>
<text transform="translate(637.00,317.90) scale(1,1.041)" font-size="17.8" text-anchor="start" style="fill:#f00">2</text>
<text transform="translate(677.60,361.40) scale(1,1.041)" font-size="17.8" text-anchor="start" style="fill:#f00">1</text>
<text transform="translate(568.40,326.60) scale(1,1.041)" font-size="17.8" text-anchor="start" style="fill:#f00">4</text>
<text transform="translate(524.00,361.10) scale(1,1.041)" font-size="17.8" text-anchor="start" style="fill:#f00">3</text>
</svg>
</body></html>
